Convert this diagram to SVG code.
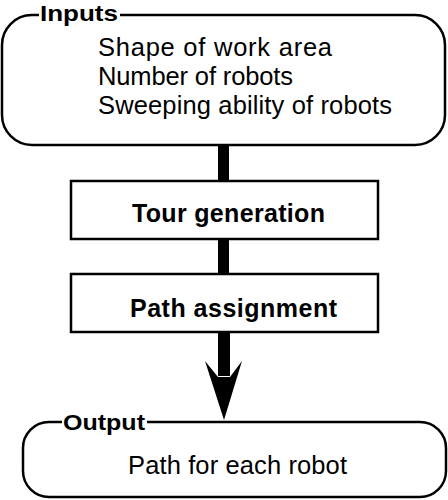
<svg xmlns="http://www.w3.org/2000/svg" width="448" height="500" viewBox="0 0 448 500">
<style>
.box{fill:none;stroke:#000;stroke-width:2.5}
.lbl{font-family:"Liberation Sans",Arial,sans-serif;font-weight:bold;font-size:22px;fill:#000}
.txt{font-family:"Liberation Sans",Arial,sans-serif;font-size:25.5px;fill:#000}
.btxt{font-family:"Liberation Sans",Arial,sans-serif;font-weight:bold;font-size:25px;fill:#000}
</style>
<rect width="448" height="500" fill="#fff"/>
<g id="inputs">
<path class="box" d="M120,15 H415 A30,30 0 0 1 445,45 V115 A30,30 0 0 1 415,145 H32 A30,30 0 0 1 2,115 V45 A30,30 0 0 1 32,15 H39"/>
<text class="lbl" x="40" y="21" textLength="78" lengthAdjust="spacingAndGlyphs">Inputs</text>
<text class="txt" x="98" y="56" textLength="234" lengthAdjust="spacing">Shape of work area</text>
<text class="txt" x="98" y="85" textLength="195" lengthAdjust="spacing">Number of robots</text>
<text class="txt" x="98" y="114" textLength="294" lengthAdjust="spacing">Sweeping ability of robots</text>
</g>
<g id="connectors" fill="#000">
<rect x="218" y="145" width="11" height="36"/>
<rect x="218" y="239" width="11" height="36"/>
<rect x="218" y="332" width="12" height="44"/>
<polygon points="205,361 218,377 230,377 242,361 224,420"/>
</g>
<g id="tour">
<rect class="box" x="71" y="181" width="307" height="58"/>
<text class="btxt" x="132" y="222" textLength="193" lengthAdjust="spacing">Tour generation</text>
</g>
<g id="path">
<rect class="box" x="71" y="274" width="307" height="58"/>
<text class="btxt" x="130" y="317" textLength="207" lengthAdjust="spacing">Path assignment</text>
</g>
<g id="output">
<path class="box" d="M147,422 H420 A26,26 0 0 1 446,448 V471 A26,26 0 0 1 420,497 H49 A26,26 0 0 1 23,471 V448 A26,26 0 0 1 49,422 H62"/>
<text class="lbl" x="63" y="430" textLength="82" lengthAdjust="spacingAndGlyphs">Output</text>
<text class="txt" x="128" y="474" textLength="219" lengthAdjust="spacing">Path for each robot</text>
</g>
</svg>
